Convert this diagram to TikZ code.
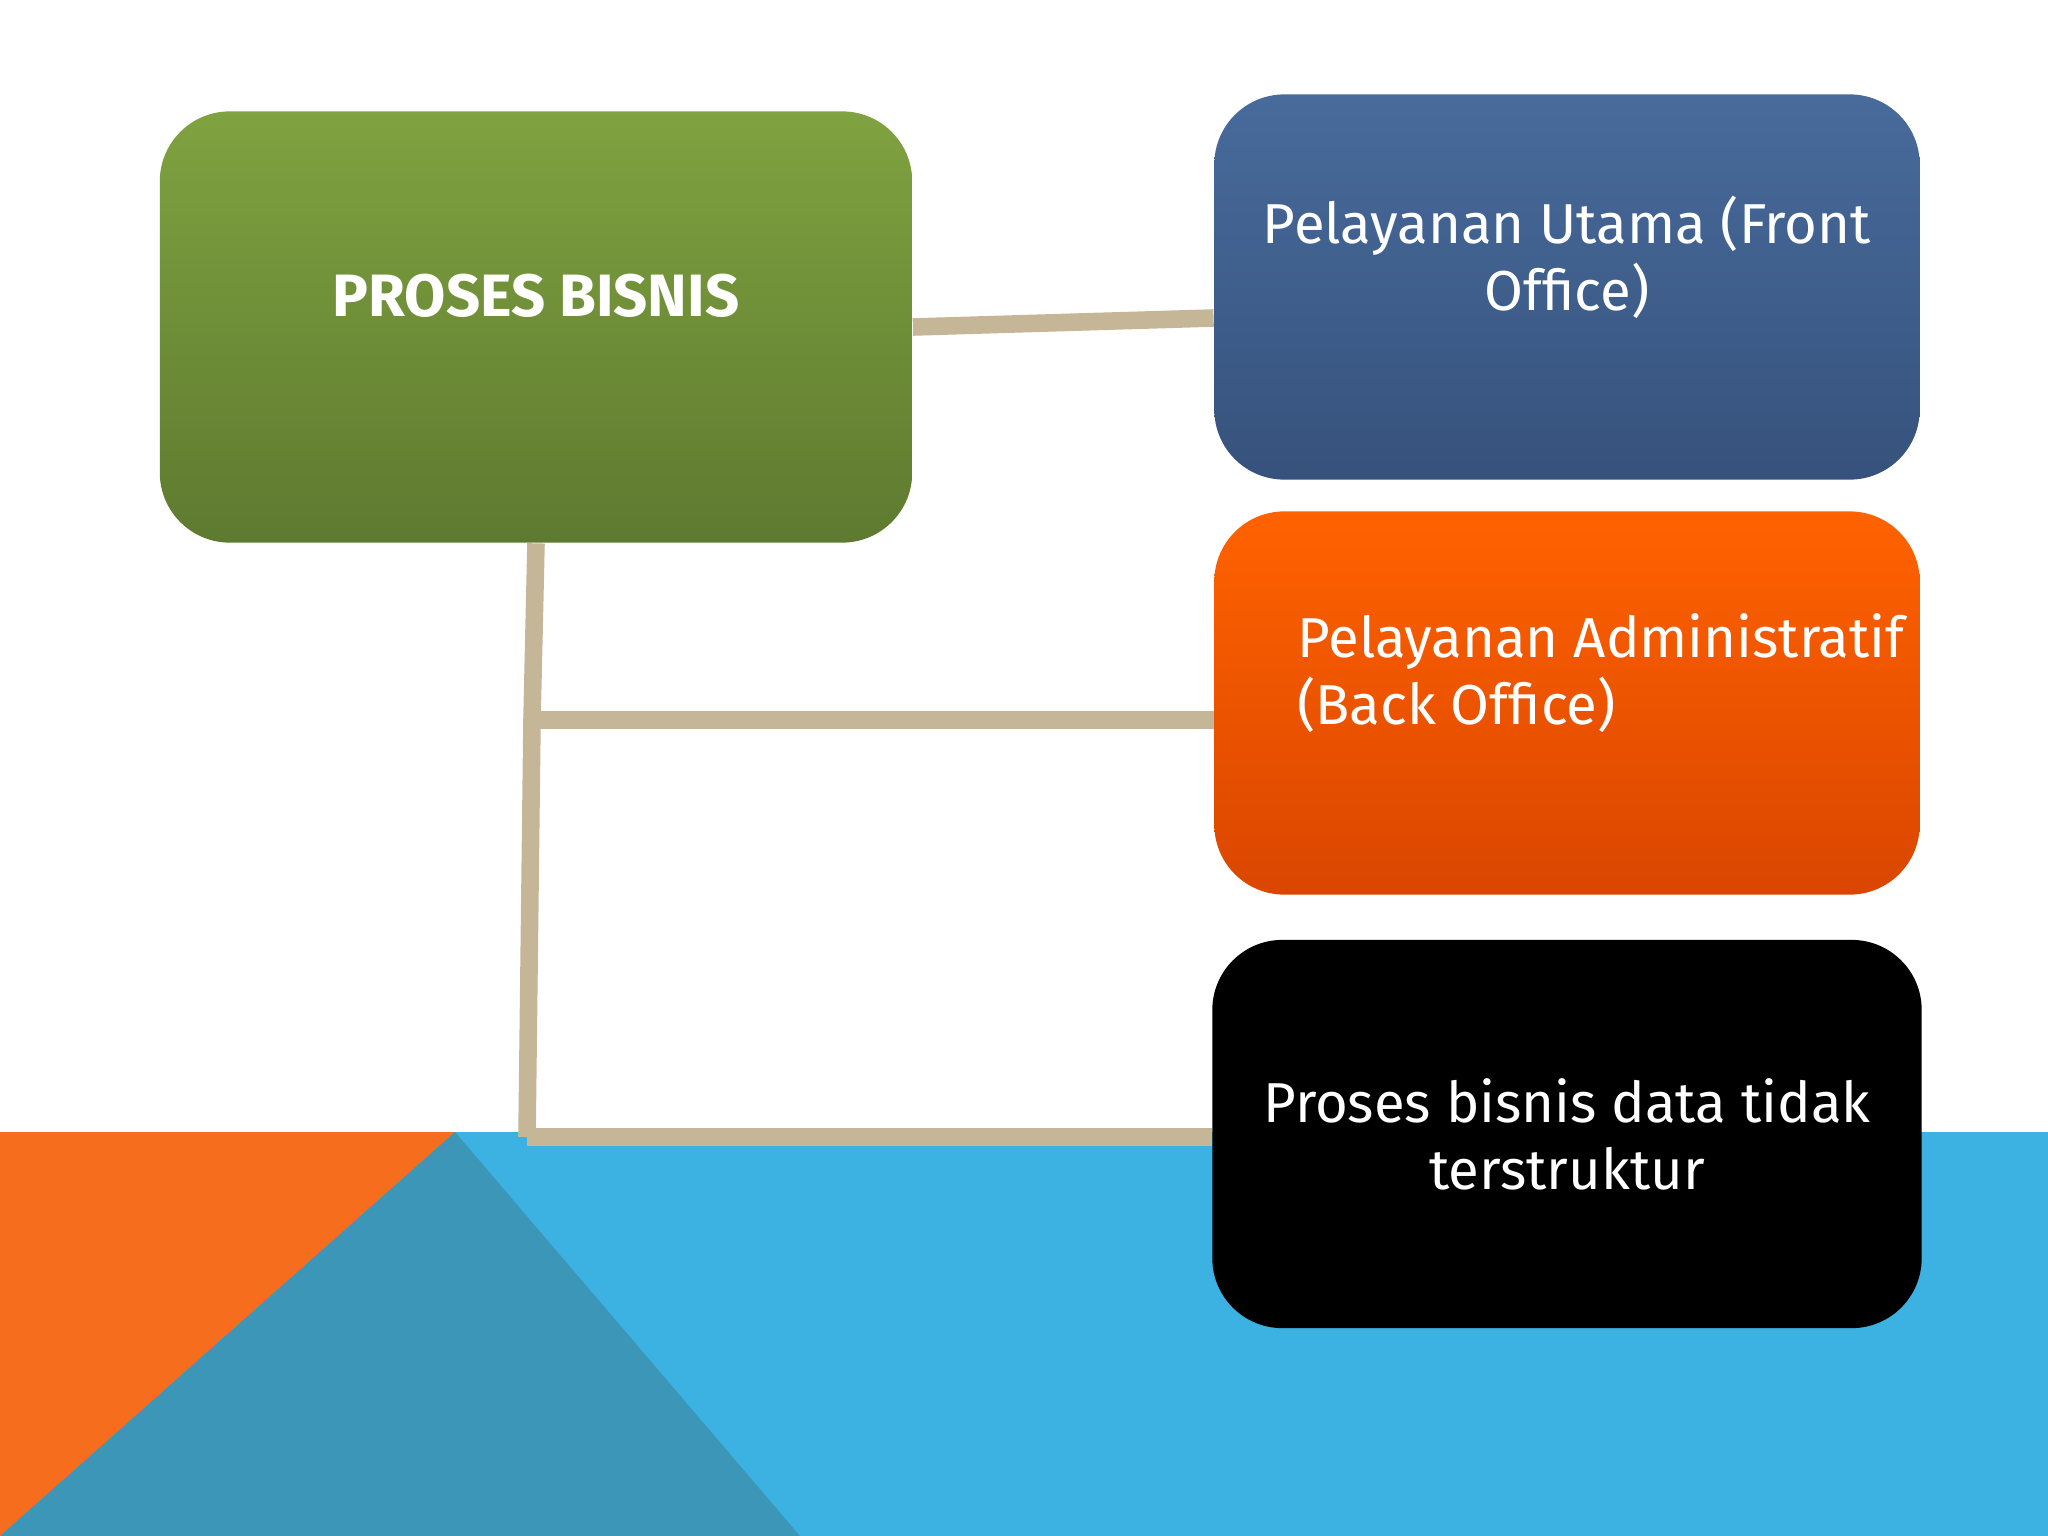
\documentclass[tikz,border=0pt]{standalone}
\usepackage{fontspec}
\setmainfont{Fira Sans}
\usetikzlibrary{calc}
\definecolor{gtop}{HTML}{80A240}\definecolor{gbot}{HTML}{5E7A30}
\definecolor{btop}{HTML}{486B9C}\definecolor{bbot}{HTML}{36527C}
\definecolor{otop}{HTML}{FF6200}\definecolor{obot}{HTML}{DA4600}
\definecolor{conn}{HTML}{C6B698}
\definecolor{skyb}{HTML}{3BB2E2}\definecolor{teal}{HTML}{3C96B8}\definecolor{orbg}{HTML}{F76D1E}
\tikzset{box/.style={rounded corners=0.7cm,minimum width=#1,align=center,text=white,font=\fontsize{16}{19}\selectfont},
 line/.style={conn,line width=5pt}}
\begin{document}
\begin{tikzpicture}[x=0.01cm,y=-0.01cm]
\useasboundingbox (0,0) rectangle (2048,1536);
\fill[skyb] (0,1132) rectangle (2048,1536);
\fill[orbg] (0,1132) -- (455,1132) -- (0,1536) -- cycle;
\fill[teal] (455,1132) -- (800,1536) -- (0,1536) -- cycle;
\node[box=7.52cm,minimum height=4.31cm,top color=gtop,bottom color=gbot,text depth=0pt] (g) at (536,327) {};
\node[font=\bfseries\fontsize{17}{20}\selectfont,text=white] (gt) at (536,296) {PROSES BISNIS};
\node[box=7.05cm,minimum height=3.85cm,top color=btop,bottom color=bbot] (b) at (1567,287) {};
\node[box=7cm,text=white] (bt) at (1567,257) {Pelayanan Utama (Front\\Office)};
\node[box=7.05cm,minimum height=3.83cm,top color=otop,bottom color=obot] (o) at (1567,703) {};
\node[box=7cm,text=white,align=left,anchor=west] (ot) at (1250,673) {Pelayanan Administratif\\(Back Office)};
\node[box=7.09cm,minimum height=3.88cm,fill=black] (k) at (1567,1134) {};
\node[box=7cm,text=white] (kt) at (1567,1134) {Proses bisnis data tidak\\terstruktur};
\coordinate (j1) at (532,720); \coordinate (j2) at (527,1137);
\draw[line] (g.east) -- ($(b.west)+(0,31)$);
\draw[line] (g.south) -- (j1) -- (j2);
\draw[line] (j1) -- (o.west|-j1);
\draw[line] (j2) -- (k.west|-j2);
\end{tikzpicture}
\end{document}
